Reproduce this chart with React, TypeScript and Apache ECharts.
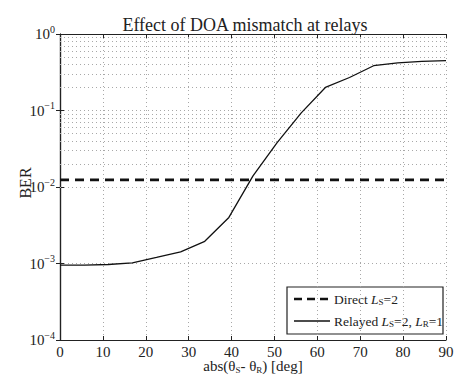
import React, { useEffect, useRef } from "react";
import * as echarts from "echarts";

const angles = [0, 5.625, 11.25, 16.875, 22.5, 28.125, 33.75, 39.375, 45, 50.625, 56.25, 61.875, 67.5, 73.125, 78.75, 84.375, 90];
const relayedBer = [9.5e-4, 9.5e-4, 9.7e-4, 1.02e-3, 1.2e-3, 1.42e-3, 1.95e-3, 4.0e-3, 1.4e-2, 3.8e-2, 9.3e-2, 0.2, 0.27, 0.385, 0.42, 0.44, 0.45];
const directBer = 0.0124;
const directX = [0, 90];
const minorGridValues = [
  2e-4, 3e-4, 4e-4, 5e-4, 6e-4, 7e-4, 8e-4, 9e-4,
  2e-3, 3e-3, 4e-3, 5e-3, 6e-3, 7e-3, 8e-3, 9e-3,
  2e-2, 3e-2, 4e-2, 5e-2, 6e-2, 7e-2, 8e-2, 9e-2,
  0.2, 0.3, 0.4, 0.5, 0.6, 0.7, 0.8, 0.9,
];

const FONT = "Liberation Serif";
const INK = "#222";

export default function App() {
  const ref = useRef<HTMLDivElement>(null);
  useEffect(() => {
    const chart = echarts.init(ref.current!, null, { renderer: "svg" });
    const gridLine = { show: true, lineStyle: { color: "#a8a8a8", type: [1, 3] as any, width: 1 } };
    const yLabel = (v: number) => {
      const e = Math.round(Math.log10(v));
      return `{b|10}{s|${e < 0 ? "\u2212" + Math.abs(e) : e}}`;
    };
    const lx = 287, ly = 287, lw = 156, lh = 47;
    const legendRich = {
      t: { fontFamily: FONT, fontSize: 13.5, fill: INK } as any,
      i: { fontFamily: FONT, fontSize: 13.5, fontStyle: "italic", fill: INK } as any,
      sub: { fontFamily: FONT, fontSize: 9, fill: INK, padding: [6, 0, 0, 0] } as any,
    };
    chart.setOption({
      animation: false,
      backgroundColor: "#fff",
      textStyle: { fontFamily: FONT },
      title: {
        text: "Effect of DOA mismatch at relays",
        left: 240,
        top: 11,
        textAlign: "center",
        textStyle: { fontFamily: FONT, fontSize: 18, fontWeight: "normal", color: INK },
      },
      grid: { left: 60, right: 28, top: 34, bottom: 38 },
      xAxis: [
        {
          type: "value", min: 0, max: 90, interval: 10, position: "bottom",
          axisLine: { lineStyle: { color: INK, width: 1.2 } },
          axisTick: { inside: true, length: 4, lineStyle: { color: INK } },
          axisLabel: { fontFamily: FONT, fontSize: 15, color: INK, margin: 4 },
          splitLine: gridLine,
        },
        {
          type: "value", min: 0, max: 90, interval: 10, position: "top",
          axisLine: { lineStyle: { color: INK, width: 1.2 } },
          axisTick: { inside: true, length: 4, lineStyle: { color: INK } },
          axisLabel: { show: false },
          splitLine: { show: false },
        },
      ],
      yAxis: [
        {
          type: "log", logBase: 10, min: 1e-4, max: 1, position: "left",
          axisLine: { show: true, lineStyle: { color: INK, width: 1.2 } },
          axisTick: { show: true, inside: true, length: 4, lineStyle: { color: INK } },
          axisLabel: {
            formatter: yLabel, margin: 5,
            rich: {
              b: { fontFamily: FONT, fontSize: 15, color: INK },
              s: { fontFamily: FONT, fontSize: 10, color: INK, verticalAlign: "bottom", padding: [0, 0, 10, 0] },
            },
          },
          splitLine: gridLine,
        },
        {
          type: "log", logBase: 10, min: 1e-4, max: 1, position: "right",
          axisLine: { show: true, lineStyle: { color: INK, width: 1.2 } },
          axisTick: { show: true, inside: true, length: 4, lineStyle: { color: INK } },
          axisLabel: { show: false },
          splitLine: { show: false },
        },
      ],
      graphic: [
        {
          type: "text", rotation: Math.PI / 2, x: 25, y: 183,
          style: { text: "BER", fontFamily: FONT, fontSize: 16, fill: INK, align: "center", verticalAlign: "middle" },
        },
        {
          type: "text", x: 253, y: 366,
          style: {
            text: "{t|abs(\u03b8}{sub|S}{t|- \u03b8}{sub|R}{t|) [deg]}",
            align: "center", verticalAlign: "middle",
            rich: {
              t: { fontFamily: FONT, fontSize: 15, fill: INK } as any,
              sub: { fontFamily: FONT, fontSize: 9, fill: INK, padding: [7, 0, 0, 0] } as any,
            },
          },
        },
        {
          type: "group", z: 100,
          children: [
            { type: "rect", shape: { x: lx, y: ly, width: lw, height: lh }, style: { fill: "#fff", stroke: INK, lineWidth: 1.2 } },
            { type: "line", shape: { x1: lx + 7, y1: ly + 12, x2: lx + 42, y2: ly + 12 }, style: { stroke: "#111", lineWidth: 2.6, lineDash: [8, 5] } },
            { type: "line", shape: { x1: lx + 7, y1: ly + 34, x2: lx + 43, y2: ly + 34 }, style: { stroke: "#111", lineWidth: 1.3 } },
            {
              type: "text", x: lx + 47, y: ly + 12,
              style: { text: "{t|Direct }{i|L}{sub|S}{t|=2}", verticalAlign: "middle", rich: legendRich },
            },
            {
              type: "text", x: lx + 47, y: ly + 34,
              style: { text: "{t|Relayed }{i|L}{sub|S}{t|=2, }{i|L}{sub|R}{t|=1}", verticalAlign: "middle", rich: legendRich },
            },
          ],
        },
      ],
      series: [
        {
          name: "Direct",
          type: "line",
          data: directX.map((x) => [x, directBer]),
          symbol: "none",
          lineStyle: { color: "#111", width: 2.6, type: [9, 6] },
          z: 3,
        },
        {
          name: "Relayed",
          type: "line",
          data: angles.map((a, i) => [a, relayedBer[i]]),
          symbol: "none",
          lineStyle: { color: "#111", width: 1.3 },
          z: 3,
          markLine: {
            silent: true,
            symbol: "none",
            label: { show: false },
            lineStyle: { color: "#a8a8a8", type: [1, 3], width: 1 },
            data: minorGridValues.map((v) => ({ yAxis: v })),
            z: 1,
          },
        },
      ],
    });
    return () => chart.dispose();
  }, []);
  return <div ref={ref} style={{ position: "fixed", left: 0, top: 0, width: 474, height: 378 }} />;
}
